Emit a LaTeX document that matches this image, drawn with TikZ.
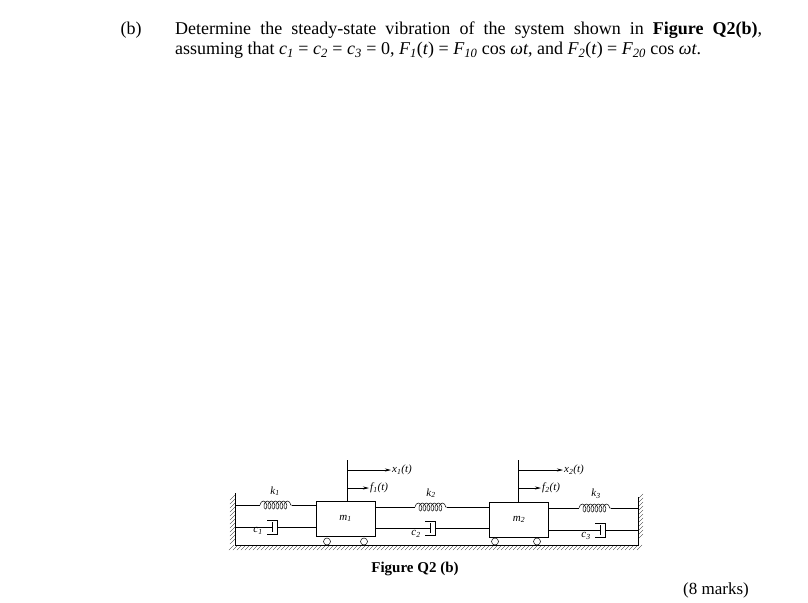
\documentclass[tikz,border=0pt]{standalone}
\usepackage{fontspec}
\setmainfont{Liberation Serif}
\usetikzlibrary{decorations.pathmorphing,arrows.meta}
\newcommand{\sbs}[1]{\textsubscript{#1}}
\begin{document}
\begin{tikzpicture}[x=1pt,y=-1pt,
  lbl/.style={font=\fontsize{11}{12}\selectfont\itshape,inner sep=1pt},
  mass/.style={draw,thin,minimum width=59pt,minimum height=35pt,inner sep=0pt,fill=white,font=\fontsize{11}{12}\selectfont\itshape},
  ln/.style={line width=0.5pt},
  coilsp/.style={decorate,decoration={coil,aspect=0.6,segment length=4pt,amplitude=4pt}},
  arr/.style={-{Stealth[length=6pt,width=3pt]},line width=0.6pt}]
\useasboundingbox (0,0) rectangle (808,602);
\node[anchor=base west,font=\fontsize{18}{20}\selectfont] (b) at (117,35) {(b)};
\node[anchor=base west,font=\fontsize{18}{20}\selectfont,inner sep=0pt] (t1) at (175,35) {\makebox[587pt][s]{Determine the steady-state vibration of the system shown in \textbf{Figure Q2(b)},}};
\node[anchor=base west,font=\fontsize{18}{20}\selectfont,inner sep=0pt] (t2) at (175,55) {assuming that \textit{c\sbs{1}} = \textit{c\sbs{2}} = \textit{c\sbs{3}} = 0, \textit{F\sbs{1}}(\textit{t}) = \textit{F\sbs{10}} cos \textit{ωt}, and \textit{F\sbs{2}}(\textit{t}) = \textit{F\sbs{20}} cos \textit{ωt}.};
\node[font=\fontsize{15}{17}\selectfont\bfseries] (cap) at (415,569) {Figure Q2 (b)};
\node[font=\fontsize{17}{19}\selectfont] (marks) at (716,590) {(8 marks)};
% walls and floor
\coordinate (lwt) at (235,493); \coordinate (lwb) at (235,545);
\coordinate (rwt) at (638,497); \coordinate (rwb) at (638,545);
\draw[ln] (lwt) -- (lwb) -- (rwb) -- (rwt);
\foreach \y in {495,499,...,541} \draw[line width=0.3pt] (235,\y) -- (230,\y+5);
\foreach \y in {499,503,...,541} \draw[line width=0.3pt] (638,\y) -- (643,\y-5);
\foreach \x in {229,233,...,640} \draw[line width=0.3pt] (\x,550) -- (\x+5,545);
% masses
\node[mass] (m1) at (345.5,518.5) {m\sbs{1}};
\node[mass] (m2) at (519,519.5) {m\sbs{2}};
\foreach \x in {327,364,495,537} \draw[ln,fill=white] (\x,541.5) circle (3.5);
% springs
\draw[ln] (235,505) -- (260,505);
\draw[ln,coilsp] (260,505) -- (292,505);
\draw[ln] (292,505) -- (m1.west |- 0,505);
\draw[ln] (m1.east |- 0,507) -- (415,507);
\draw[ln,coilsp] (415,507) -- (447,507);
\draw[ln] (447,507) -- (m2.west |- 0,507);
\draw[ln] (m2.east |- 0,508) -- (579,508);
\draw[ln,coilsp] (579,508) -- (611,508);
\draw[ln] (611,508) -- (638,508);
\node[lbl] (k1) at (275,491) {k\sbs{1}};
\node[lbl] (k2) at (431,493) {k\sbs{2}};
\node[lbl] (k3) at (596,494) {k\sbs{3}};
% dampers
\foreach \a/\y/\dx in {235/527/272, 375/528/430, 549/530/600} {
  \draw[ln] (\a,\y) -- (\dx,\y);
  \draw[ln] (\dx,\y-5) -- (\dx,\y+5);
  \draw[ln] (\dx-5,\y-7) -- (\dx+5,\y-7) -- (\dx+5,\y+7) -- (\dx-5,\y+7);
}
\draw[ln] (277,527) -- (m1.west |- 0,527);
\draw[ln] (435,528) -- (m2.west |- 0,528);
\draw[ln] (605,530) -- (638,530);
\node[lbl] (c1) at (258,531) {c\sbs{1}};
\node[lbl] (c2) at (416,534) {c\sbs{2}};
\node[lbl] (c3) at (586,536) {c\sbs{3}};
% arrows
\coordinate (v1) at (347,460); \coordinate (v2) at (518,460);
\draw[ln] (v1) -- (v1 |- m1.north);
\draw[ln] (v2) -- (v2 |- m2.north);
\coordinate (x1e) at (391,470); \coordinate (f1e) at (369,488);
\coordinate (x2e) at (563,470); \coordinate (f2e) at (541,488);
\draw[arr] (v1 |- x1e) -- (x1e);
\draw[arr] (v1 |- f1e) -- (f1e);
\draw[arr] (v2 |- x2e) -- (x2e);
\draw[arr] (v2 |- f2e) -- (f2e);
\node[lbl,anchor=west] (x1) at (x1e) {x\sbs{1}(t)};
\node[lbl,anchor=west] (f1) at (f1e) {f\sbs{1}(t)};
\node[lbl,anchor=west] (x2) at (x2e) {x\sbs{2}(t)};
\node[lbl,anchor=west] (f2) at (f2e) {f\sbs{2}(t)};
\end{tikzpicture}
\end{document}
